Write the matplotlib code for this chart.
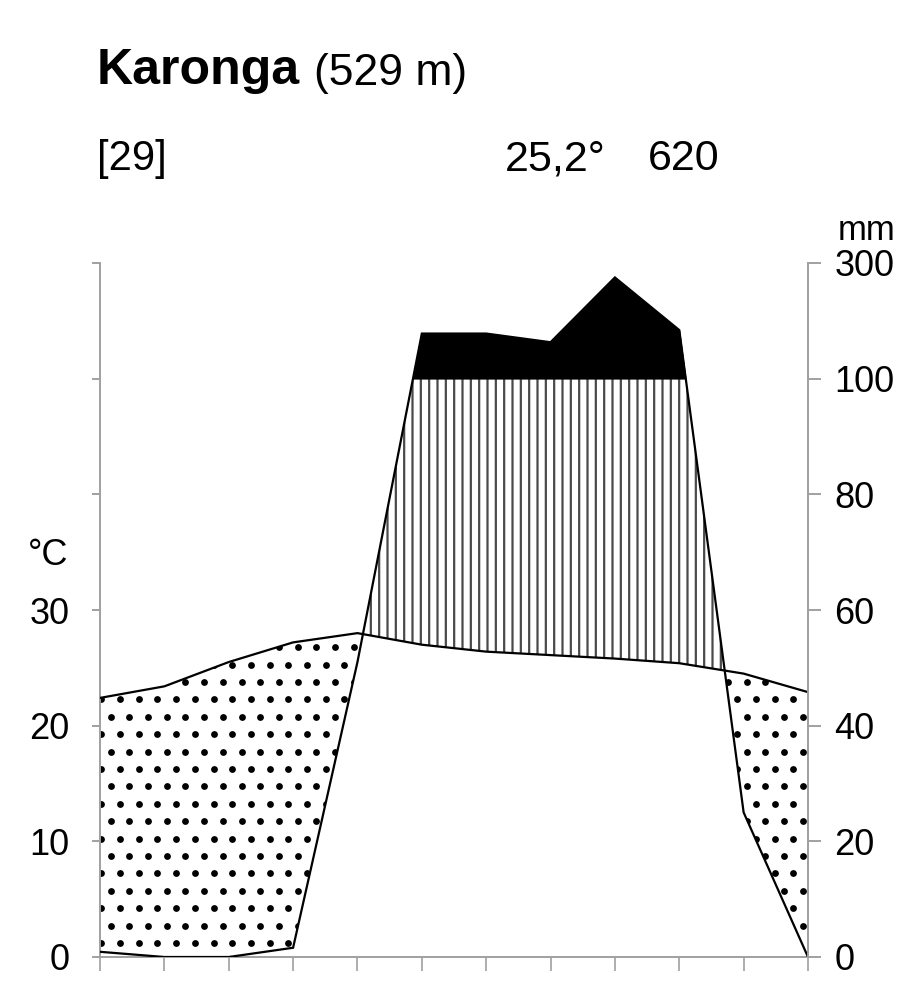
import numpy as np
import matplotlib
matplotlib.use("Agg")
import matplotlib.pyplot as plt
from matplotlib.path import Path

plt.rcParams['font.family'] = ['Liberation Sans', 'DejaVu Sans']
plt.rcParams['hatch.linewidth'] = 1.6

# Karonga (529 m), months start in July (southern hemisphere)
months = ['Jul', 'Aug', 'Sep', 'Oct', 'Nov', 'Dec', 'Jan', 'Feb', 'Mar', 'Apr', 'May', 'Jun']
temp_c = [22.4, 23.4, 25.5, 27.2, 28.0, 27.0, 26.4, 26.1, 25.8, 25.4, 24.5, 22.9]
precip_mm = [0.9, 0.0, 0.0, 1.6, 51, 178, 178, 163, 275, 184, 25, 0.0]

left_ticks = [0, 10, 20, 30, 40, 50, 60]
left_labels = ['0', '10', '20', '30', '', '', '']
right_labels = ['0', '20', '40', '60', '80', '100', '300']

station = 'Karonga'
altitude = '(529 m)'
years = '[29]'
mean_temp = '25,2°'
annual_precip = '620'

GRID = '#a0a0a0'


def scale_precip(p):
    # 20 mm = 10 °C below 100 mm, 1/10 compression above
    p = np.asarray(p, dtype=float)
    return np.where(p <= 100, p / 2.0, 50 + (p - 100) / 20.0)


x = np.arange(len(months))
t = np.array(temp_c)
p = scale_precip(precip_mm)

xf = np.linspace(0, len(months) - 1, 2201)
tf = np.interp(xf, x, t)
pf = np.interp(xf, x, p)

fig = plt.figure(figsize=(9.2, 9.84), dpi=100)
ax = fig.add_axes([100 / 920, 27 / 984, 708 / 920, 694 / 984])
ax.set_xlim(0, len(months) - 1)
ax.set_ylim(0, 60)

# humid period: vertical stripes
ax.fill_between(xf, tf, np.minimum(pf, 50), where=pf >= tf, interpolate=True,
                facecolor='white', edgecolor='#4a4a4a', hatch='||', linewidth=0, zorder=1)
# very wet (> 100 mm): black
ax.fill_between(xf, 50, pf, where=pf >= 50, interpolate=True,
                facecolor='black', edgecolor='black', linewidth=0.5, zorder=2)
# arid period: dots
dry = ax.fill_between(xf, pf, tf, where=tf >= pf, interpolate=True,
                      facecolor='none', linewidth=0, zorder=1)
clip = Path.make_compound_path(*dry.get_paths())

dx, dy = 0.2906, 1.504
gx, gy = [], []
for r, yy in enumerate(np.arange(1.21, 60, dy)):
    off = 0.02 if r % 2 == 0 else 0.02 + dx / 2
    xs_row = np.arange(off, len(months), dx)
    gx.extend(xs_row)
    gy.extend([yy] * len(xs_row))
dots = ax.scatter(gx, gy, s=24, color='black', linewidths=0, zorder=2)
dots.set_clip_path(clip, ax.transData)

ax.plot(x, p, color='black', lw=1.6, solid_joinstyle='miter', zorder=4)
ax.plot(x, t, color='black', lw=1.6, zorder=4)

ax.spines['top'].set_visible(False)
for side in ['left', 'bottom', 'right']:
    ax.spines[side].set_color(GRID)
    ax.spines[side].set_linewidth(1.4)

ax.set_xticks(x)
ax.set_xticklabels([])
ax.tick_params(axis='x', direction='out', length=10, width=1.2, color=GRID)
ax.set_yticks(left_ticks)
ax.set_yticklabels(left_labels)
ax.tick_params(axis='y', direction='out', length=6, width=1.4, color=GRID,
               labelsize=26, pad=16)

ax2 = ax.twinx()
ax2.set_ylim(ax.get_ylim())
ax2.set_yticks(left_ticks)
ax2.set_yticklabels(right_labels)
ax2.tick_params(axis='y', direction='out', length=9, width=1.4, color=GRID,
                labelsize=26, pad=10)
for side in ['top', 'left', 'bottom']:
    ax2.spines[side].set_visible(False)
ax2.spines['right'].set_color(GRID)
ax2.spines['right'].set_linewidth(1.4)

fig.text(28 / 920, 1 - 565 / 984, '°C', fontsize=26, ha='left', va='baseline')
fig.text(838 / 920, 1 - 240 / 984, 'mm', fontsize=25, ha='left', va='baseline')

t1 = fig.text(97 / 920, 1 - 84 / 984, station, fontsize=36, fontweight='bold',
              ha='left', va='baseline')
ax.annotate(altitude, xy=(1, 0), xycoords=t1, xytext=(10, 0), textcoords='offset points',
            fontsize=32, ha='left', va='bottom', annotation_clip=False)
fig.text(97 / 920, 1 - 170 / 984, years, fontsize=30, ha='left', va='baseline')
fig.text(505 / 920, 1 - 170 / 984, mean_temp, fontsize=31, ha='left', va='baseline')
fig.text(648 / 920, 1 - 170 / 984, annual_precip, fontsize=31, ha='left', va='baseline')

fig.savefig('out.png', dpi=100, facecolor='white')
